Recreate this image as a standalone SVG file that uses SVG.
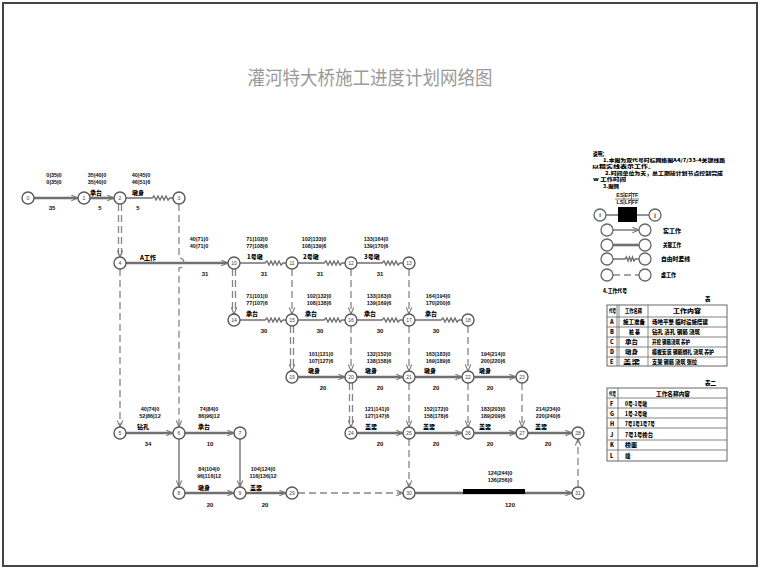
<svg xmlns="http://www.w3.org/2000/svg" width="760" height="570" viewBox="0 0 760 570">
<defs>
<marker id="ah" viewBox="0 0 10 10" refX="9.5" refY="5" markerWidth="7" markerHeight="7" markerUnits="userSpaceOnUse" orient="auto">
<path d="M0,1 L9.5,5 L0,9" fill="none" stroke="#777" stroke-width="1.6"/>
</marker>
<style>
.t{font-family:"Liberation Sans","Noto Sans CJK SC",sans-serif}
.ln{stroke:#707070;stroke-width:2.6;fill:none}
.tl{stroke:#707070;stroke-width:1.4;fill:none}
.ds{stroke:#858585;stroke-width:1.3;stroke-dasharray:7 4;fill:none}
.nd circle{fill:#fff;stroke:#5a5a5a;stroke-width:1.4}
.nd text{font-family:"Liberation Sans",sans-serif;font-size:5px;fill:#444;text-anchor:middle}
.p{font-family:"Liberation Sans","Noto Sans CJK SC",sans-serif;font-size:5.5px;font-weight:bold;fill:#111;text-anchor:middle}
.nm{font-family:"Noto Sans CJK SC","Liberation Sans",sans-serif;font-size:6px;font-weight:900;fill:#000}
.du{font-family:"Liberation Sans",sans-serif;font-size:6px;font-weight:bold;fill:#111;text-anchor:middle}
.lg{font-family:"Noto Sans CJK SC","Liberation Sans",sans-serif;font-size:4.6px;font-weight:900;fill:#000}
.lg2{font-family:"Noto Sans CJK SC","Liberation Sans",sans-serif;font-size:5.5px;font-weight:900;fill:#000}
.tb{fill:#fff;stroke:#666;stroke-width:1}
.tc{font-family:"Noto Sans CJK SC","Liberation Sans",sans-serif;font-size:5.5px;font-weight:900;fill:#000}
</style>
</defs>
<rect x="0" y="0" width="760" height="570" fill="#fff"/>
<rect x="3" y="3" width="754" height="563" fill="none" stroke="#444" stroke-width="2"/>
<text x="370" y="85" class="t" font-size="19" fill="#9a9a9a" text-anchor="middle" textLength="245" lengthAdjust="spacingAndGlyphs">灌河特大桥施工进度计划网络图</text>

<g id="connectors">
<!-- row 1 -->
<path class="ln" d="M34,198 H78" marker-end="url(#ah)"/>
<path class="ln" d="M90,198 H114" marker-end="url(#ah)"/>
<path class="tl" d="M126,198 H152 l2,-2 l2,4 l2,-4 l2,4 l2,-4 l2,4 l2,-4 l2,4 l2,-2 H173"/>
<!-- row 2 -->
<path class="ln" d="M126,263 H228" marker-end="url(#ah)"/>
<path class="tl" d="M240,263 H265 l2,-2 l2,4 l2,-4 l2,4 l2,-4 l2,4 l2,-4 l2,4 l2,-2 H286"/>
<path class="tl" d="M298,263 H324 l2,-2 l2,4 l2,-4 l2,4 l2,-4 l2,4 l2,-4 l2,4 l2,-2 H345"/>
<path class="tl" d="M357,263 H382 l2,-2 l2,4 l2,-4 l2,4 l2,-4 l2,4 l2,-4 l2,4 l2,-2 H403"/>
<!-- row 3 -->
<path class="tl" d="M240,320 H265 l2,-2 l2,4 l2,-4 l2,4 l2,-4 l2,4 l2,-4 l2,4 l2,-2 H286"/>
<path class="tl" d="M298,320 H324 l2,-2 l2,4 l2,-4 l2,4 l2,-4 l2,4 l2,-4 l2,4 l2,-2 H345"/>
<path class="tl" d="M357,320 H382 l2,-2 l2,4 l2,-4 l2,4 l2,-4 l2,4 l2,-4 l2,4 l2,-2 H403"/>
<path class="tl" d="M415,320 H441 l2,-2 l2,4 l2,-4 l2,4 l2,-4 l2,4 l2,-4 l2,4 l2,-2 H462"/>
<!-- row 4 -->
<path class="ln" d="M298,377 H345" marker-end="url(#ah)"/>
<path class="ln" d="M357,377 H403" marker-end="url(#ah)"/>
<path class="ln" d="M415,377 H462" marker-end="url(#ah)"/>
<path class="ln" d="M474,377 H516" marker-end="url(#ah)"/>
<!-- row 5 -->
<path class="ln" d="M126,433 H173" marker-end="url(#ah)"/>
<path class="ln" d="M185,433 H234" marker-end="url(#ah)"/>
<path class="ln" d="M357,433 H403" marker-end="url(#ah)"/>
<path class="ln" d="M415,433 H462" marker-end="url(#ah)"/>
<path class="ln" d="M474,433 H516" marker-end="url(#ah)"/>
<path class="ln" d="M528,433 H572" marker-end="url(#ah)"/>
<!-- row 6 -->
<path class="ln" d="M185,493 H234" marker-end="url(#ah)"/>
<path class="ln" d="M246,493 H286" marker-end="url(#ah)"/>
<path class="ds" d="M298,493 H403" stroke-width="2" marker-end="url(#ah)"/>
<path class="ln" d="M415,493 H572" marker-end="url(#ah)"/>
<rect x="463" y="489" width="62" height="5" fill="#000"/>
<!-- verticals -->
<path class="ds" d="M118.5,204 V257"/><path class="ds" d="M121.5,204 V257"/><path d="M120,249 V257" stroke="none" fill="none" marker-end="url(#ah)"/>
<path class="ds" d="M120,269 V427" marker-end="url(#ah)"/>
<path class="ds" d="M179,204 V258 a5,5 0 0 1 0,10 V427" marker-end="url(#ah)"/>
<path class="ds" d="M232.5,269 V314"/><path class="ds" d="M235.5,269 V314"/><path d="M234,306 V314" stroke="none" fill="none" marker-end="url(#ah)"/>
<path class="ds" d="M292,269 V314" marker-end="url(#ah)"/>
<path class="ds" d="M351,269 V314" marker-end="url(#ah)"/>
<path class="ds" d="M409,269 V314" marker-end="url(#ah)"/>
<path class="ds" d="M290.5,326 V371"/><path class="ds" d="M293.5,326 V371"/><path d="M292,363 V371" stroke="none" fill="none" marker-end="url(#ah)"/>
<path class="ds" d="M351,326 V371" marker-end="url(#ah)"/>
<path class="ds" d="M409,326 V371" marker-end="url(#ah)"/>
<path class="ds" d="M468,326 V371" marker-end="url(#ah)"/>
<path class="ds" d="M349.5,383 V427"/><path class="ds" d="M352.5,383 V427"/><path d="M351,419 V427" stroke="none" fill="none" marker-end="url(#ah)"/>
<path class="ds" d="M409,383 V427" marker-end="url(#ah)"/>
<path class="ds" d="M468,383 V427" marker-end="url(#ah)"/>
<path class="ds" d="M522,383 V427" marker-end="url(#ah)"/>
<path class="ds" d="M409,439 V487" marker-end="url(#ah)"/>
<path class="ds" d="M578,487 V439" marker-end="url(#ah)"/>
<path class="tl" d="M179,439 V487" marker-end="url(#ah)"/>
<path class="tl" d="M240,439 V487" marker-end="url(#ah)"/>
</g>

<g id="labels">
<!-- row 1 -->
<text class="p" x="54" y="177">0|35|0</text><text class="p" x="54" y="184">0|35|0</text><text class="du" x="52" y="210">35</text>
<text class="p" x="97" y="177">35|40|0</text><text class="p" x="97" y="184">35|40|0</text><text class="nm" x="90" y="195">承台</text><text class="du" x="100" y="210">5</text>
<text class="p" x="141" y="177">40|45|0</text><text class="p" x="141" y="184">46|51|6</text><text class="nm" x="132" y="195">墩身</text><text class="du" x="138" y="210">5</text>
<!-- row 2 -->
<text class="nm" x="140" y="260">A工作</text>
<text class="p" x="199" y="241">40|71|0</text><text class="p" x="199" y="248">40|71|0</text><text class="du" x="205" y="276">31</text>
<text class="p" x="257" y="241">71|102|0</text><text class="p" x="257" y="248">77|108|6</text><text class="nm" x="247" y="259">1号墩</text><text class="du" x="264" y="276">31</text>
<text class="p" x="314" y="241">102|133|0</text><text class="p" x="314" y="248">108|139|6</text><text class="nm" x="303" y="259">2号墩</text><text class="du" x="320" y="276">31</text>
<text class="p" x="376" y="241">133|164|0</text><text class="p" x="376" y="248">139|170|6</text><text class="nm" x="364" y="259">3号墩</text><text class="du" x="380" y="276">31</text>
<!-- row 3 -->
<text class="p" x="257" y="298">71|101|0</text><text class="p" x="257" y="305">77|107|6</text><text class="nm" x="246" y="316">承台</text><text class="du" x="264" y="333">30</text>
<text class="p" x="319" y="298">102|132|0</text><text class="p" x="319" y="305">108|138|6</text><text class="nm" x="305" y="316">承台</text><text class="du" x="320" y="333">30</text>
<text class="p" x="379" y="298">133|163|0</text><text class="p" x="379" y="305">139|169|6</text><text class="nm" x="364" y="316">承台</text><text class="du" x="380" y="333">30</text>
<text class="p" x="438" y="298">164|194|0</text><text class="p" x="438" y="305">170|200|6</text><text class="nm" x="425" y="316">承台</text><text class="du" x="436" y="333">30</text>
<!-- row 4 -->
<text class="p" x="321" y="356">101|121|0</text><text class="p" x="321" y="363">107|127|6</text><text class="nm" x="308" y="373">墩身</text><text class="du" x="323" y="390">20</text>
<text class="p" x="379" y="356">132|152|0</text><text class="p" x="379" y="363">138|158|6</text><text class="nm" x="365" y="373">墩身</text><text class="du" x="380" y="390">20</text>
<text class="p" x="438" y="356">163|183|0</text><text class="p" x="438" y="363">169|189|6</text><text class="nm" x="424" y="373">墩身</text><text class="du" x="436" y="390">20</text>
<text class="p" x="493" y="356">194|214|0</text><text class="p" x="493" y="363">200|220|6</text><text class="nm" x="479" y="373">墩身</text><text class="du" x="490" y="390">20</text>
<!-- row 5 -->
<text class="p" x="150" y="411">40|74|0</text><text class="p" x="150" y="418">52|86|12</text><text class="nm" x="137" y="429">钻孔</text><text class="du" x="148" y="446">34</text>
<text class="p" x="209" y="411">74|84|0</text><text class="p" x="209" y="418">86|96|12</text><text class="nm" x="198" y="429">承台</text><text class="du" x="210" y="446">10</text>
<text class="p" x="377" y="411">121|141|0</text><text class="p" x="377" y="418">127|147|6</text><text class="nm" x="365" y="429">盖梁</text><text class="du" x="380" y="446">20</text>
<text class="p" x="436" y="411">152|172|0</text><text class="p" x="436" y="418">158|178|6</text><text class="nm" x="423" y="429">盖梁</text><text class="du" x="436" y="446">20</text>
<text class="p" x="493" y="411">183|203|0</text><text class="p" x="493" y="418">189|209|6</text><text class="nm" x="479" y="429">盖梁</text><text class="du" x="490" y="446">20</text>
<text class="p" x="548" y="411">214|234|0</text><text class="p" x="548" y="418">220|240|6</text><text class="nm" x="535" y="429">盖梁</text><text class="du" x="548" y="446">20</text>
<!-- row 6 -->
<text class="p" x="209" y="471">84|104|0</text><text class="p" x="209" y="478">96|116|12</text><text class="nm" x="198" y="490">墩身</text><text class="du" x="210" y="507">20</text>
<text class="p" x="263" y="471">104|124|0</text><text class="p" x="263" y="478">116|136|12</text><text class="nm" x="250" y="490">盖梁</text><text class="du" x="265" y="507">20</text>
<text class="p" x="500" y="475">124|244|0</text><text class="p" x="500" y="482">136|256|0</text><text class="du" x="510" y="507">120</text>
</g>

<g id="n0" class="nd"><circle cx="28" cy="198" r="6"/><text x="28" y="200">0</text></g>
<g id="n1" class="nd"><circle cx="84" cy="198" r="6"/><text x="84" y="200">1</text></g>
<g id="n2" class="nd"><circle cx="120" cy="198" r="6"/><text x="120" y="200">2</text></g>
<g id="n3" class="nd"><circle cx="179" cy="198" r="6"/><text x="179" y="200">3</text></g>
<g id="n4" class="nd"><circle cx="120" cy="263" r="6"/><text x="120" y="265">4</text></g>
<g id="n5" class="nd"><circle cx="234" cy="263" r="6"/><text x="234" y="265">10</text></g>
<g id="n6" class="nd"><circle cx="292" cy="263" r="6"/><text x="292" y="265">11</text></g>
<g id="n7" class="nd"><circle cx="351" cy="263" r="6"/><text x="351" y="265">12</text></g>
<g id="n8" class="nd"><circle cx="409" cy="263" r="6"/><text x="409" y="265">13</text></g>
<g id="n9" class="nd"><circle cx="234" cy="320" r="6"/><text x="234" y="322">14</text></g>
<g id="n10" class="nd"><circle cx="292" cy="320" r="6"/><text x="292" y="322">15</text></g>
<g id="n11" class="nd"><circle cx="351" cy="320" r="6"/><text x="351" y="322">16</text></g>
<g id="n12" class="nd"><circle cx="409" cy="320" r="6"/><text x="409" y="322">17</text></g>
<g id="n13" class="nd"><circle cx="468" cy="320" r="6"/><text x="468" y="322">18</text></g>
<g id="n14" class="nd"><circle cx="292" cy="377" r="6"/><text x="292" y="379">19</text></g>
<g id="n15" class="nd"><circle cx="351" cy="377" r="6"/><text x="351" y="379">20</text></g>
<g id="n16" class="nd"><circle cx="409" cy="377" r="6"/><text x="409" y="379">21</text></g>
<g id="n17" class="nd"><circle cx="468" cy="377" r="6"/><text x="468" y="379">22</text></g>
<g id="n18" class="nd"><circle cx="522" cy="377" r="6"/><text x="522" y="379">23</text></g>
<g id="n19" class="nd"><circle cx="120" cy="433" r="6"/><text x="120" y="435">5</text></g>
<g id="n20" class="nd"><circle cx="179" cy="433" r="6"/><text x="179" y="435">6</text></g>
<g id="n21" class="nd"><circle cx="240" cy="433" r="6"/><text x="240" y="435">7</text></g>
<g id="n22" class="nd"><circle cx="351" cy="433" r="6"/><text x="351" y="435">24</text></g>
<g id="n23" class="nd"><circle cx="409" cy="433" r="6"/><text x="409" y="435">25</text></g>
<g id="n24" class="nd"><circle cx="468" cy="433" r="6"/><text x="468" y="435">26</text></g>
<g id="n25" class="nd"><circle cx="522" cy="433" r="6"/><text x="522" y="435">27</text></g>
<g id="n26" class="nd"><circle cx="578" cy="433" r="6"/><text x="578" y="435">28</text></g>
<g id="n27" class="nd"><circle cx="179" cy="493" r="6"/><text x="179" y="495">8</text></g>
<g id="n28" class="nd"><circle cx="240" cy="493" r="6"/><text x="240" y="495">9</text></g>
<g id="n29" class="nd"><circle cx="292" cy="493" r="6"/><text x="292" y="495">29</text></g>
<g id="n30" class="nd"><circle cx="409" cy="493" r="6"/><text x="409" y="495">30</text></g>
<g id="n31" class="nd"><circle cx="578" cy="493" r="6"/><text x="578" y="495">31</text></g>

<g id="legend">
<text class="lg2" x="593" y="156" textLength="14" lengthAdjust="spacingAndGlyphs">说明：</text>
<text class="lg" x="603" y="162" textLength="122" lengthAdjust="spacingAndGlyphs">1.本图为双代号时标网络图A4/7/33-4关键线路</text>
<text class="lg" x="592" y="168" textLength="63" lengthAdjust="spacingAndGlyphs">以粗实线表示工作。</text>
<text class="lg" x="605" y="174.5" textLength="118" lengthAdjust="spacingAndGlyphs">2.时间单位为天，总工期按计划节点控制完成</text>
<text class="lg" x="593" y="181" textLength="33" lengthAdjust="spacingAndGlyphs">w 工作时间</text>
<text class="lg" x="603" y="187.5" textLength="16" lengthAdjust="spacingAndGlyphs">3.图例</text>
<g>
<text class="p" x="620" y="197">ES</text><text class="p" x="628" y="197">EF</text><text class="p" x="635" y="197">TF</text>
<text class="p" x="620" y="204">LS</text><text class="p" x="628" y="204">LF</text><text class="p" x="635" y="204">FF</text>
<path d="M615,199 H639 M624,192 V205 M631.5,192 V205" stroke="#333" stroke-width="0.6" fill="none"/>
</g>
<path class="tl" d="M606,215 H649"/>
<rect x="618" y="207" width="19" height="15" fill="#000"/>
<circle cx="600" cy="215" r="6" fill="#fff" stroke="#666" stroke-width="1.3"/><text x="600" y="217" class="p">i</text>
<circle cx="655" cy="215" r="6" fill="#fff" stroke="#666" stroke-width="1.3"/><text x="655" y="217" class="p">j</text>
<path class="tl" d="M613,230 H639" marker-end="url(#ah)"/>
<path class="ln" d="M613,245 H639"/>
<path class="tl" d="M613,259 H625 l1.5,-2 l1.5,4 l1.5,-4 l1.5,4 l1.5,-4 l1.5,4 l1.5,-2 H639"/>
<path class="ds" d="M613,275 H639" stroke-dasharray="4 3"/>
<circle cx="607" cy="230" r="6" fill="#fff" stroke="#666" stroke-width="1.3"/><circle cx="645" cy="230" r="6" fill="#fff" stroke="#666" stroke-width="1.3"/>
<circle cx="607" cy="245" r="6" fill="#fff" stroke="#666" stroke-width="1.3"/><circle cx="645" cy="245" r="6" fill="#fff" stroke="#666" stroke-width="1.3"/>
<circle cx="607" cy="259" r="6" fill="#fff" stroke="#666" stroke-width="1.3"/><circle cx="645" cy="259" r="6" fill="#fff" stroke="#666" stroke-width="1.3"/>
<circle cx="607" cy="275" r="6" fill="#fff" stroke="#666" stroke-width="1.3"/><circle cx="645" cy="275" r="6" fill="#fff" stroke="#666" stroke-width="1.3"/>
<text class="lg2" x="663" y="233" textLength="18" lengthAdjust="spacingAndGlyphs">实工作</text>
<text class="lg2" x="663" y="247" textLength="18" lengthAdjust="spacingAndGlyphs">关键工作</text>
<text class="lg2" x="661" y="261" textLength="29" lengthAdjust="spacingAndGlyphs">自由时差线</text>
<text class="lg2" x="661" y="277" textLength="15" lengthAdjust="spacingAndGlyphs">虚工作</text>
<text class="lg2" x="603" y="293" textLength="24" lengthAdjust="spacingAndGlyphs">4.工作代号</text>
<text class="lg2" x="705" y="301">表</text>
</g>

<g id="table1">
<rect class="tb" x="607" y="305" width="120" height="61"/>
<path d="M607,317 H727 M607,327 H727 M607,337 H727 M607,347 H727 M607,357 H727 M617,305 V366 M619,305 V366 M648,305 V366" stroke="#666" stroke-width="0.8" fill="none"/>
<text class="tc" x="609" y="313" textLength="7" lengthAdjust="spacingAndGlyphs">代号</text>
<text class="tc" x="625" y="313" textLength="17" lengthAdjust="spacingAndGlyphs">工作名称</text>
<text class="tc" x="673" y="313" textLength="28" lengthAdjust="spacingAndGlyphs">工作内容</text>
<text class="tc" x="610" y="324">A</text><text class="tc" x="623" y="324" textLength="22" lengthAdjust="spacingAndGlyphs">施工准备</text><text class="tc" x="652" y="324" textLength="56" lengthAdjust="spacingAndGlyphs">场地平整 临时设施搭建</text>
<text class="tc" x="610" y="334">B</text><text class="tc" x="629" y="334" textLength="11" lengthAdjust="spacingAndGlyphs">桩 基</text><text class="tc" x="652" y="334" textLength="48" lengthAdjust="spacingAndGlyphs">钻孔 清孔 钢筋 浇筑</text>
<text class="tc" x="610" y="344">C</text><text class="tc" x="625" y="344" textLength="13" lengthAdjust="spacingAndGlyphs">承台</text><text class="tc" x="652" y="344" textLength="38" lengthAdjust="spacingAndGlyphs">开挖 钢筋浇筑 养护</text>
<text class="tc" x="610" y="354">D</text><text class="tc" x="625" y="354" textLength="13" lengthAdjust="spacingAndGlyphs">墩身</text><text class="tc" x="652" y="354" textLength="62" lengthAdjust="spacingAndGlyphs">模板安装 钢筋绑扎 浇筑 养护</text>
<text class="tc" x="610" y="364">E</text><text class="tc" x="623" y="364" textLength="17" lengthAdjust="spacingAndGlyphs">盖梁</text><text class="tc" x="652" y="364" textLength="45" lengthAdjust="spacingAndGlyphs">支架 钢筋 浇筑 张拉</text>
</g>

<g id="table2">
<text class="lg2" x="705" y="385">表二</text>
<rect class="tb" x="607" y="388" width="120" height="73"/>
<path d="M607,398 H727 M607,408 H727 M607,418 H727 M607,428 H727 M607,440 H727 M607,450 H727 M618,388 V461" stroke="#666" stroke-width="0.8" fill="none"/>
<text class="tc" x="609" y="396" textLength="7" lengthAdjust="spacingAndGlyphs">代号</text>
<text class="tc" x="656" y="396" textLength="34" lengthAdjust="spacingAndGlyphs">工作名称内容</text>
<text class="tc" x="610" y="406">F</text><text class="tc" x="625" y="406" textLength="22" lengthAdjust="spacingAndGlyphs">0号-1号墩</text>
<text class="tc" x="610" y="416">G</text><text class="tc" x="625" y="416" textLength="22" lengthAdjust="spacingAndGlyphs">1号-2号墩</text>
<text class="tc" x="610" y="426">H</text><text class="tc" x="625" y="426" textLength="30" lengthAdjust="spacingAndGlyphs">7号1号1号7号</text>
<text class="tc" x="610" y="437">J</text><text class="tc" x="625" y="437" textLength="28" lengthAdjust="spacingAndGlyphs">7号1号桥台</text>
<text class="tc" x="610" y="447">K</text><text class="tc" x="625" y="447" textLength="12" lengthAdjust="spacingAndGlyphs">桥面</text>
<text class="tc" x="610" y="458">L</text><text class="tc" x="625" y="458">竣</text>
</g>
</svg>
